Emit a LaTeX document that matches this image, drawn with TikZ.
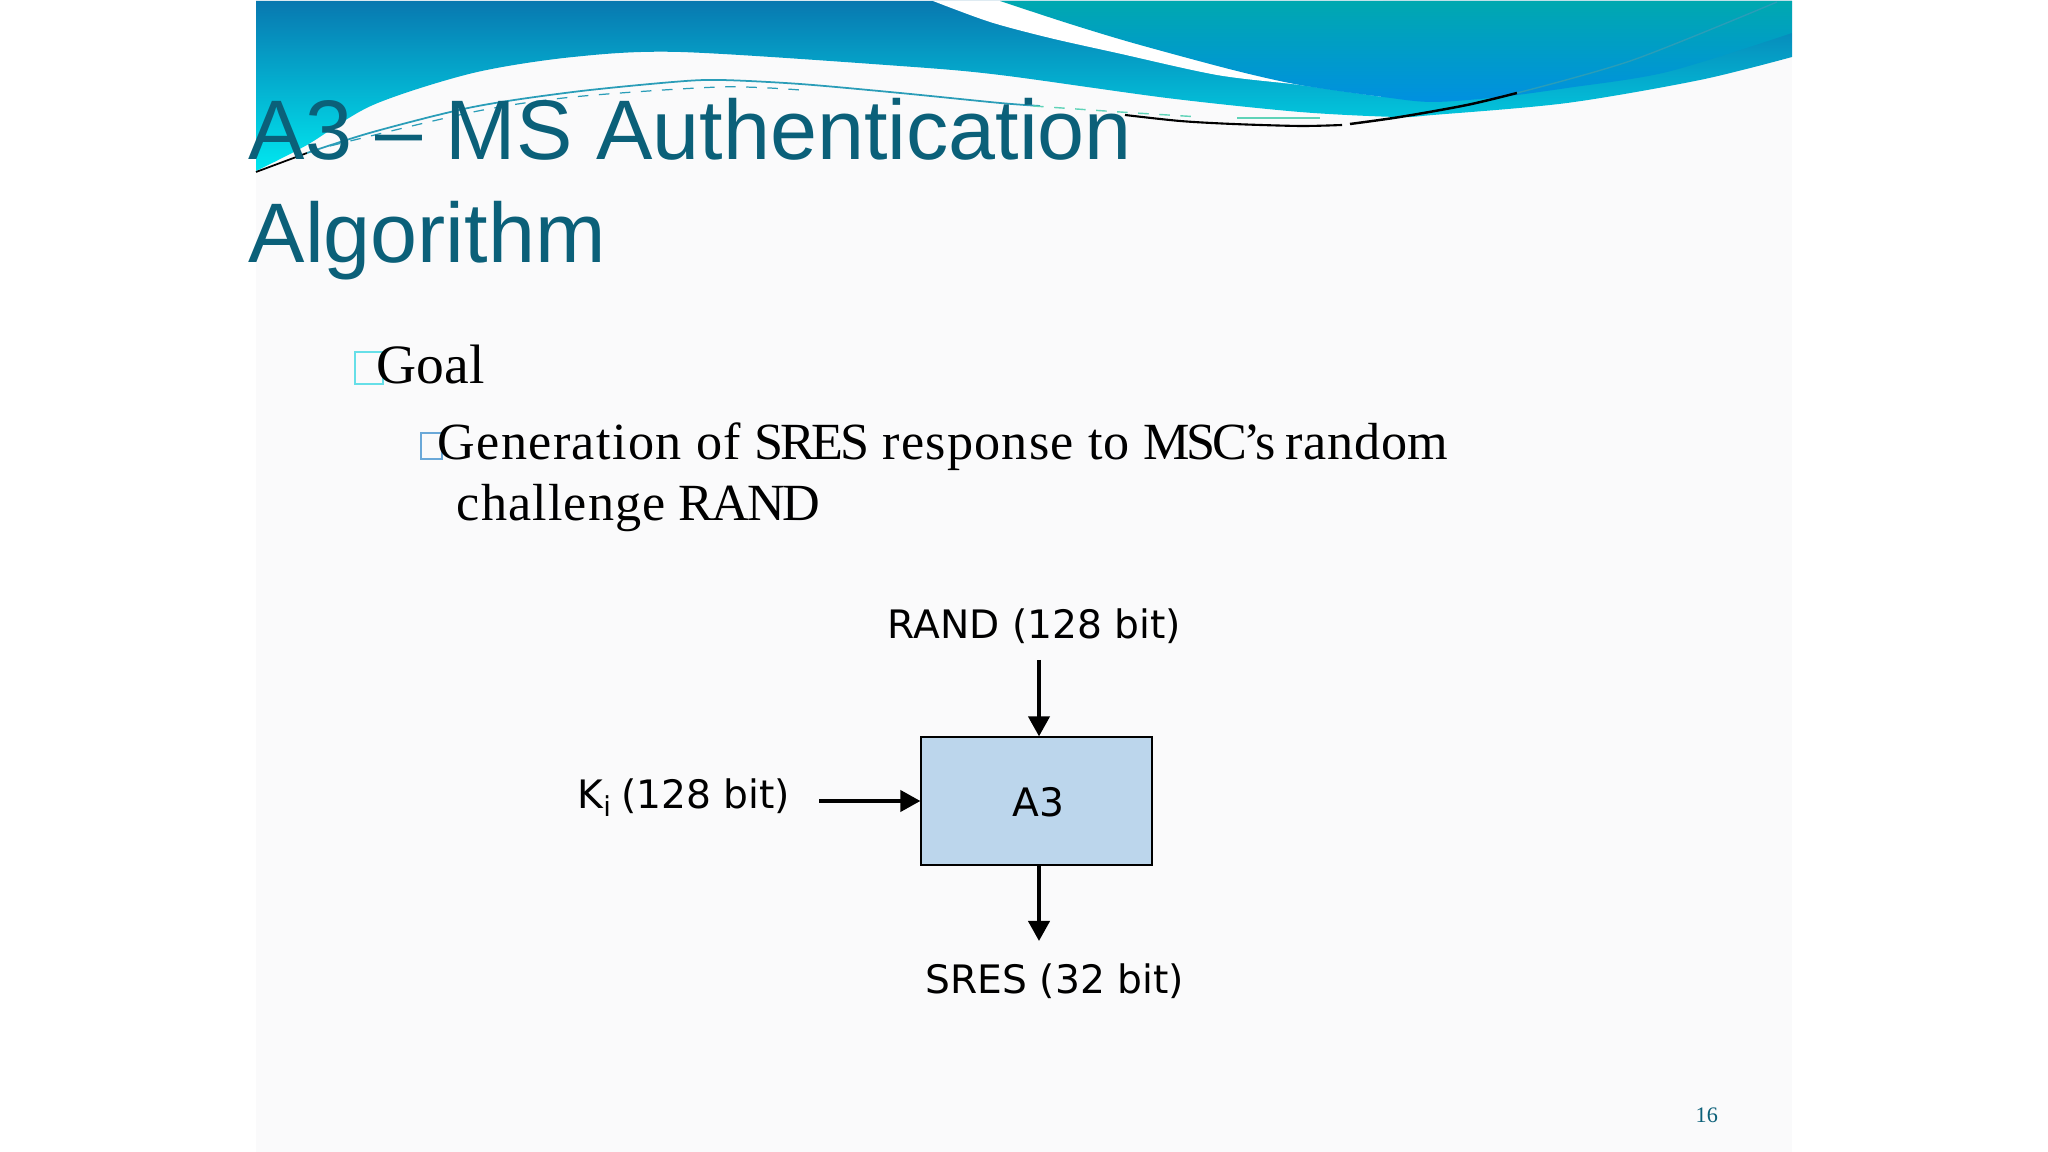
\documentclass[tikz,border=0pt]{standalone}
\usepackage{fontspec}
\usetikzlibrary{arrows.meta}
\newfontfamily\titlefont{Liberation Sans}
\newfontfamily\bodyfont{Liberation Serif}
\newfontfamily\labelfont{DejaVu Sans}
\newcommand{\lsp}[2]{{\addfontfeature{LetterSpace=#1}#2}}
\definecolor{slidebg}{HTML}{FAFAFB}
\definecolor{titleblue}{HTML}{0B6079}
\definecolor{boxblue}{HTML}{BCD6EC}
\definecolor{linegreen}{HTML}{5FD3B8}
\definecolor{lineteal}{HTML}{2A9DB8}
\tikzset{
    txt/.style={anchor=base west,inner sep=0pt},
    titletxt/.style={txt,text=titleblue,font=\titlefont\fontsize{24.05}{29}\selectfont},
    bodytxt/.style={txt,font=\bodyfont\fontsize{14.85}{18}\selectfont},
    sigtxt/.style={txt,font=\labelfont\fontsize{11.15}{13}\selectfont},
    sig/.style={-{Triangle[length=5.7pt,width=6pt]},line width=1.1pt},
    bullet/.style={draw,line width=0.55pt,fill=none,inner sep=0pt,anchor=north west}
}
\begin{document}
\begin{tikzpicture}[x=0.1mm,y=-0.1mm]
    \useasboundingbox (0,0) rectangle (2048,1152);
    \fill[slidebg] (256,0) rectangle (1792,1152);
    % wave at the top
    \shade[top color={rgb,255:red,8;green,120;blue,176},bottom color={rgb,255:red,0;green,232;blue,240}]
        plot[smooth] coordinates {(256,171) (307,145) (373,105) (473,73) (573,57) (680,52) (900,66) (1000,75) (1167,98) (1300,112) (1397,117) (1433,115) (1567,103) (1700,80) (1792,57)}
        -- (1792,1) -- (256,1) -- cycle;
    \fill[white] plot[smooth] coordinates {(933,1) (990,22) (1050,38) (1117,53) (1217,75) (1300,85) (1383,97)}
        -- (1383,1) -- cycle;
    \shade[top color={rgb,255:red,0;green,168;blue,176},bottom color={rgb,255:red,0;green,144;blue,224}]
        plot[smooth] coordinates {(1000,1) (1067,23) (1133,43) (1233,70) (1300,85) (1383,97) (1433,102) (1500,97) (1567,88) (1667,72) (1792,33)}
        -- (1792,1) -- cycle;
    % thin lines over the wave
    \draw[black,line width=0.5pt] plot[smooth] coordinates {(256,172) (307,153)};
    \draw[lineteal,line width=0.5pt] plot[smooth] coordinates {(307,153) (373,132) (473,107) (573,92) (673,82) (720,80) (800,84) (900,93) (1000,103) (1040,106)};
    \draw[lineteal,line width=0.35pt,dashed] plot[smooth] coordinates {(330,146) (473,112) (573,97) (720,87) (800,90)};
    \draw[linegreen,line width=0.4pt,dashed] plot[smooth] coordinates {(1033,106) (1120,112) (1200,117)};
    \draw[linegreen,line width=0.5pt] (1237,118) -- (1320,118);
    \draw[black,line width=0.6pt] plot[smooth] coordinates {(1125,115) (1180,121) (1233,124) (1300,126) (1342,125)};
    \draw[black,line width=0.7pt] plot[smooth] coordinates {(1350,124) (1400,117) (1467,105) (1517,93)};
    \draw[lineteal,line width=0.4pt] plot[smooth] coordinates {(1517,93) (1633,60) (1777,2)};
    % title and text
    \node[titletxt] (titleone) at (248,160) {A3 – MS Authentication};
    \node[titletxt] (titletwo) at (248,263) {Algorithm};
    \node[bullet,draw={rgb,255:red,102;green,223;blue,232},minimum width=28*0.1mm,minimum height=32*0.1mm] (goalbox) at (354,351) {};
    \node[txt,font=\bodyfont\fontsize{15.8}{18}\selectfont] (goal) at (376,384) {Goal};
    \node[bullet,draw={rgb,255:red,106;green,168;blue,216},minimum width=21*0.1mm,minimum height=26*0.1mm] (genbox) at (420,432) {};
    \node[bodytxt] (genone) at (437,460) {\lsp{2.6}{Generation of} \lsp{-6}{SRES} \lsp{2.4}{response to} \lsp{-6}{MSC’s}\hspace{-0.8pt} \lsp{1.3}{random}};
    \node[bodytxt] (gentwo) at (456,521) {\lsp{2.2}{challenge} \lsp{-4}{RAND}};
    % the A3 block
    \node[draw,fill=boxblue,line width=0.35pt,inner sep=0pt,minimum width=231*0.1mm,minimum height=128*0.1mm] (a3box) at (1036.5,801) {};
    \node[sigtxt] (a3) at (1012,817) {A3};
    \node[sigtxt] (rand) at (887,639) {RAND (128 bit)};
    \node[sigtxt] (ki) at (577,809) {K\textsubscript{i}\hspace{-1.2pt} (128 bit)};
    \node[sigtxt] (sres) at (925,994) {SRES (32 bit)};
    \coordinate (randin) at (1039,660);
    \coordinate (kiin) at (819,801);
    \coordinate (sresout) at (1039,941);
    \draw[sig] (randin) -- (randin |- a3box.north);
    \draw[sig] (kiin) -- (a3box.west);
    \draw[sig] (sresout |- a3box.south) -- (sresout);
    \node[txt,text=titleblue,font=\bodyfont\fontsize{6.3}{8}\selectfont] (pagenum) at (1695,1122) {16};
\end{tikzpicture}
\end{document}
